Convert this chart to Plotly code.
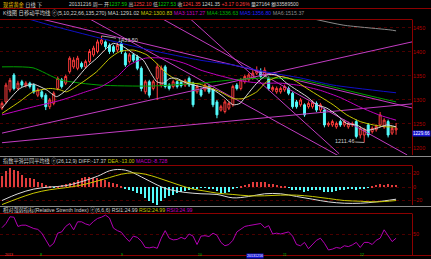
import plotly.graph_objects as go

# ---------------- data ----------------
OPEN = [1283,1296,1321,1352,1324,1338,1330,1335,1331,1310,1317,1310,1286,1293,1324,1342,1335,1359,1369,1366,
        1376,1369,1380,1394,1401,1418,1421,1414,1411,1404,1418,1397,1380,1394,1390,1366,1317,1338,1324,1345,
        1331,1369,1331,1328,1338,1337,1331,1345,1335,1317,1321,1321,1328,1321,1296,1279,1276,1283,1290,1331,
        1324,1338,1342,1345,1356,1359,1352,1345,1321,1317,1317,1321,1324,1314,1296,1290,1290,1286,1286,1293,
        1279,1279,1248,1248,1244,1255,1248,1244,1248,1255,1227,1227,1248,1234,1238,1248,1244,1255,1231,1237.59]
HIGH = [1297,1336,1346,1356,1340,1342,1339,1338,1335,1325,1321,1314,1304,1318,1349,1346,1353,1391,1389,1392,
        1380,1384,1406,1413,1426,1433.5,1424,1418,1415,1420,1422,1401,1398,1398,1394,1370,1342,1342,1342,1376,
        1372,1373,1335,1342,1341,1340,1344,1349,1338,1332,1325,1335,1332,1325,1300,1290,1300,1297,1332,1335,
        1346,1353,1356,1362,1370,1366,1368,1349,1330,1328,1328,1332,1328,1317,1300,1304,1293,1297,1299,1297,
        1294,1283,1255,1259,1255,1259,1259,1255,1255,1259,1245,1242,1252,1245,1249,1275,1262,1259,1245,1252.10]
LOW = [1279,1292,1316,1320,1320,1327,1326,1324,1313,1306,1303,1279,1281,1289,1320,1324,1331,1355,1365,1362,
       1365,1365,1376,1390,1397,1414,1406,1396,1397,1400,1396,1369,1376,1379,1362,1318,1312,1305,1320,1300,
       1326,1324,1320,1324,1324,1326,1327,1327,1285,1313,1306,1317,1313,1285,1262,1276,1272,1279,1286,1320,
       1320,1334,1338,1342,1352,1345,1348,1320,1317,1313,1313,1317,1310,1282,1282,1286,1265,1282,1282,1275,
       1275,1243,1244,1244,1240,1244,1244,1240,1244,1220,1220,1211.46,1222,1230,1234,1244,1240,1222,1227,1227.53]
CLOSE = [1293,1331,1341,1324,1335,1331,1335,1328,1317,1321,1307,1286,1300,1314,1345,1328,1349,1387,1383,1387,
         1369,1380,1401,1408,1421,1425,1411,1401,1401,1414,1401,1373,1394,1383,1366,1324,1338,1310,1338,1369,
         1366,1328,1324,1338,1328,1330,1340,1331,1290,1328,1310,1331,1317,1290,1269,1286,1296,1293,1328,1324,
         1342,1349,1352,1356,1362,1349,1362,1324,1326,1324,1324,1328,1314,1286,1286,1300,1269,1293,1295,1279,
         1290,1248,1251,1255,1251,1248,1255,1251,1251,1224,1241,1238,1227,1241,1245,1269,1258,1227,1241,1241.35]
IDX = list(range(len(CLOSE)))

# moving averages (candle index, price)
MA1_X = [0,4.5,7.8,11.2,13.7,16.2,18.8,21.3,23.8,26.3,28,30.5,33,35.5,37.2,38.9,40.5,42.2,43.9,46.4,49.7,
         53.1,55.6,58.1,59.8,61.5,64,66.5,69,71.5,74,76.6,79.1,81.6,84.1,86.6,89.1,91.6,94.1,96.7,99]
MA1_Y = [1283,1324,1333,1321,1307,1321,1345,1369,1387,1408,1418,1411,1397,1383,1359,1338,1335,1345,1345,1335,1328,
         1321,1307,1290,1293,1310,1335,1352,1352,1335,1321,1307,1290,1283,1269,1251,1248,1237,1241,1248,1244]
MA2_X = [0,4.5,7.8,12.1,14.6,16.2,20.4,23.8,27.1,29.6,33,36.4,38.9,41.4,43.9,46.4,49.7,54.8,58.1,60.6,64,66.5,
         69.8,73.2,76.6,79.9,83.2,86.6,90,93.3,96.7,99]
MA2_Y = [1272,1297,1317,1324,1321,1317,1338,1359,1387,1401,1404,1394,1376,1355,1342,1337,1333,1317,1303,1303,1317,
         1338,1349,1342,1324,1307,1290,1269,1255,1248,1244,1244]
MA3_X = [0,8,15,21,25,29,32,36,41,46,50,55,60,65,70,75,80,85,90,95,99]
MA3_Y = [1269,1286,1300,1317,1328,1349,1373,1387,1387,1376,1362,1350,1340,1335,1335,1330,1320,1305,1285,1268,1258]
MA4_X = [0,7.8,14.6,24.6,37.2,49.7,58,66.6,74.9,83.2,91.7,99]
MA4_Y = [1369,1367,1342,1331,1329,1335,1342,1346,1342,1327,1310,1296]
MA5_X = [0,12,24.6,37.2,49.7,58,66.6,74.9,83.2,99]
MA5_Y = [1485,1456,1429,1404,1383,1373,1358,1346,1331,1315]
MA6_X = [75,85.7,97.5,99]
MA6_Y = [1475,1456,1446,1444]

# hand-drawn trend lines (candle index pairs, price pairs)
TREND_X = [[0,103],[0,103],[0,103],[47.3,84.7],[21.6,84.7],[40.3,101.8]]
TREND_Y = [[1488.5,1283.5],[1211,1292],[1231,1421],[1469,1188],[1470.8,1183],[1469,1185.4]]

MACD = [16,23,28,25,23,18,14,13,12,8,6,3,1,-1,1,3,4,6,8,11,
        14,15,15,14,13,12,10,8,6,4,2,-2,-4,-6,-9,-11,-16,-21,-23,-26,
        -21,-16,-14,-12,-9,-7,-6,-4,-2.5,-2.5,-1,-1,-2,-2.5,-6,-9,-9,-7,-3,-1,
        1,3,5,7,8,8,8,5,4,3,2,1,-1,-4,-5,-5,-7,-6,-5,-5,
        -5,-8,-8,-7,-6,-5,-4,-3,-2,-4,-3,-2,-1,1,3,4,3,4,3,3]
DIFF_X = [0,4,8,12,16,20,24,27,29,31,33,35,37,39,41,43,46,50,54,58,62,66,70,74,78,82,86,90,94,99]
DIFF_Y = [-20,-10,-3,0,2,8,16,24,26,25,21,15,9,3,-2,-5,-8,-10,-11,-16,-14,-10,-10,-14,-18,-22,-24,-24,-22,-18]
DEA_X = [0,4,8,12,16,20,24,27,30,33,36,39,42,45,48,51,54,58,62,66,70,74,78,82,86,90,94,99]
DEA_Y = [-26,-17,-9,-4,-1,3,9,14,19,21,19,14,8,2,-3,-6,-9,-11,-13,-13,-12,-12,-14,-17,-20,-21,-22,-20]

RSI = [65,75,91,90,68,71,71,67,63,61,52,36,20,28,52,55,68,75,60,79,
       79,74,71,80,87,90,95,88,64,58,54,42,32,45,42,33,18,17,19,16,
       40,58,40,36,37,42,38,50,45,25,45,46,44,52,47,30,22,25,35,55,
       62,68,70,72,74,75,65,70,50,52,50,52,55,45,25,22,30,15,25,35,
       40,28,12,14,18,16,22,20,24,30,18,30,30,25,35,40,60,45,32,40]

PRICE_TICKS = [1200,1250,1300,1350,1400,1450]
MACD_TICKS = [-20,0,20]
RSI_TICKS = [50]
DATE_LABELS = ["2013","8","9","10","11","12"]
DATE_IDX = [0.3,9,29.4,48.7,70,89.4]

# ---------------- layout geometry ----------------
W, H = 431, 259
ML, MR, MT, MB = 0, 19, 19, 4
PW, PH = W - ML - MR, H - MT - MB
def px(x): return (x - ML) / PW
def py(y): return (H - MB - y) / PH

RED = "#ff3c3c"; CYAN = "#54fcfc"; DR = "#8c0000"; PURPLE = "#c23cc2"
FONT = "Liberation Sans, Noto Sans CJK SC"

fig = go.Figure()
fig.add_trace(go.Candlestick(x=IDX, open=OPEN, high=HIGH, low=LOW, close=CLOSE,
    increasing=dict(line=dict(color=RED, width=1), fillcolor="#000000"),
    decreasing=dict(line=dict(color=CYAN, width=1), fillcolor=CYAN),
    whiskerwidth=0, xaxis="x", yaxis="y", hoverinfo="skip"))
for tx, ty in zip(TREND_X, TREND_Y):
    fig.add_trace(go.Scatter(x=tx, y=ty, mode="lines", line=dict(color=PURPLE, width=1),
                             xaxis="x", yaxis="y", hoverinfo="skip"))
for mx, my, col in [(MA6_X, MA6_Y, "#8a8a8a"), (MA5_X, MA5_Y, "#1010c8"), (MA4_X, MA4_Y, "#00a000"),
                    (MA3_X, MA3_Y, "#c000c0"), (MA2_X, MA2_Y, "#c8c800"), (MA1_X, MA1_Y, "#d8d8d8")]:
    fig.add_trace(go.Scatter(x=mx, y=my, mode="lines", line=dict(color=col, width=1, shape="spline", smoothing=0.6),
                             xaxis="x", yaxis="y", hoverinfo="skip"))

fig.add_trace(go.Bar(x=IDX, y=MACD, width=0.3,
                     marker=dict(color=["#e03c3c" if v >= 0 else CYAN for v in MACD], line=dict(width=0)),
                     xaxis="x2", yaxis="y2", hoverinfo="skip"))
fig.add_trace(go.Scatter(x=DIFF_X, y=DIFF_Y, mode="lines", line=dict(color="#dcdcdc", width=1, shape="spline"),
                         xaxis="x2", yaxis="y2"))
fig.add_trace(go.Scatter(x=DEA_X, y=DEA_Y, mode="lines", line=dict(color="#c8c800", width=1, shape="spline"),
                         xaxis="x2", yaxis="y2"))
fig.add_trace(go.Scatter(x=IDX, y=RSI, mode="lines", line=dict(color="#b400b4", width=1),
                         xaxis="x3", yaxis="y3"))

xr = [-0.5, 103.0]
ax_common = dict(range=xr, showgrid=False, zeroline=False, showticklabels=False, showline=False, fixedrange=True)
yax = dict(side="right", showgrid=True, gridcolor="#4a0000", griddash="dot", gridwidth=1, zeroline=False,
           tickfont=dict(color="#b40000", size=5.5, family="Liberation Sans"), ticks="", showline=False)

fig.update_layout(
    width=W, height=H, margin=dict(l=ML, r=MR, t=MT, b=MB),
    paper_bgcolor="#000000", plot_bgcolor="#000000", showlegend=False, bargap=0,
    xaxis=dict(domain=[0, 1], anchor="y", rangeslider=dict(visible=False), **ax_common),
    xaxis2=dict(domain=[0, 1], anchor="y2", matches="x", **ax_common),
    xaxis3=dict(domain=[0, 1], anchor="y3", matches="x", **ax_common),
    yaxis=dict(domain=[py(155), py(19)], range=[1185.4, 1468.7], tickvals=PRICE_TICKS, anchor="x", **yax),
    yaxis2=dict(domain=[py(205), py(165)], range=[-26.6, 32.6], tickvals=MACD_TICKS, anchor="x2", **yax),
    yaxis3=dict(domain=[py(255), py(213)], range=[0, 100], tickvals=RSI_TICKS, anchor="x3", **yax),
)

shapes = []
def hline(y, x0=0, x1=412, color=DR):
    shapes.append(dict(type="line", xref="paper", yref="paper", x0=px(x0), x1=px(x1), y0=py(y), y1=py(y),
                       line=dict(color=color, width=1)))
def vline(x, y0, y1, color=DR):
    shapes.append(dict(type="line", xref="paper", yref="paper", x0=px(x), x1=px(x), y0=py(y0), y1=py(y1),
                       line=dict(color=color, width=1)))
hline(8.5, 0, 431)
hline(19.5)
vline(412.5, 19.5, 155)
hline(156.5, 0, 431, "#8a8a8a")
hline(165.5)
vline(412.5, 165.5, 205)
hline(206.5, 0, 431, "#8a8a8a")
hline(213.5)
vline(412.5, 213.5, 255)
hline(255.5, 0, 431)
fig.update_layout(shapes=shapes)

def sp(t, c): return f'<span style="color:{c}">{t}</span>'
W1 = "#d0d0d0"
ann = []
def text(x, y, t, size=5.2, anchor="left"):
    ann.append(dict(xref="paper", yref="paper", x=px(x), y=py(y), text=t, showarrow=False, xanchor=anchor,
                    yanchor="middle", font=dict(family=FONT, size=size, color=W1)))
text(1, 4.5, sp("现货黄金", "#e8c000") + " 日线 下", size=5.2)
text(67, 4.5, "20131216 周一 开" + sp("1237.59", "#00c800")
     + " 高" + sp("1252.10", RED) + " 低" + sp("1227.53", "#00c800") + " 收" + sp("1241.35", RED)
     + " 1241.35 " + sp("+3.17 0.26%", RED) + " 量27164 额33589500", size=5.0)
text(1, 13.5, "K线图 日移动平均线 ⓔ(5,10,22,66,135,270) MA1:1291.02 " + sp("MA2:1300.83", "#c8c800") + " "
     + sp("MA3:1317.27", "#c000c0") + " " + sp("MA4:1336.63", "#00b400") + " " + sp("MA5:1356.80", "#2020ff")
     + " " + sp("MA6:1515.37", "#8a8a8a"), size=5.3)
text(1, 160.5, "指数平滑异同平均线 ⓔ(26,12,9) DIFF:-17.37 " + sp("DEA:-13.00", "#c8c800") + " " + sp("MACD:-8.728", "#c000c0"))
text(1, 209.5, "相对强弱指标(Relative Strenth Index) ⓔ(6,6,6) RSI1:24.99 " + sp("RSI2:24.99", "#c8c800") + " "
     + sp("RSI3:24.99", "#c000c0"))

# price annotations
ann.append(dict(x=25, y=1433.5, xref="x", yref="y", text="1433.50", showarrow=True, arrowhead=0, arrowwidth=1,
                arrowcolor="#a0a0a0", ax=26, ay=4, font=dict(family="Liberation Sans", size=5.5, color=W1)))
ann.append(dict(x=91, y=1211.46, xref="x", yref="y", text="1211.46", showarrow=True, arrowhead=0, arrowwidth=1,
                arrowcolor="#a0a0a0", ax=-20, ay=-1, font=dict(family="Liberation Sans", size=5.5, color=W1)))
ann.append(dict(x=px(430.8), y=1229.66, xref="paper", yref="y", text="1229.66", showarrow=False, xanchor="right",
                bgcolor="#1414d2", borderpad=0, font=dict(family="Liberation Sans", size=4.6, color="#ffffff")))
# date labels at bottom
for i, (lab, xi) in enumerate(zip(DATE_LABELS, DATE_IDX)):
    ann.append(dict(x=xi, y=py(258.8), xref="x3", yref="paper", text=lab, showarrow=False, xanchor="left",
                    yanchor="bottom", font=dict(family="Liberation Sans", size=3.6, color=RED if i == 0 else "#00c800")))
ann.append(dict(x=px(246), y=py(258.8), xref="paper", yref="paper", text="20131216", showarrow=False, xanchor="left",
                yanchor="bottom", bgcolor="#1414d2", borderpad=0,
                font=dict(family="Liberation Sans", size=3.6, color="#ffffff")))
fig.update_layout(annotations=ann)

fig.write_html("out.html")
